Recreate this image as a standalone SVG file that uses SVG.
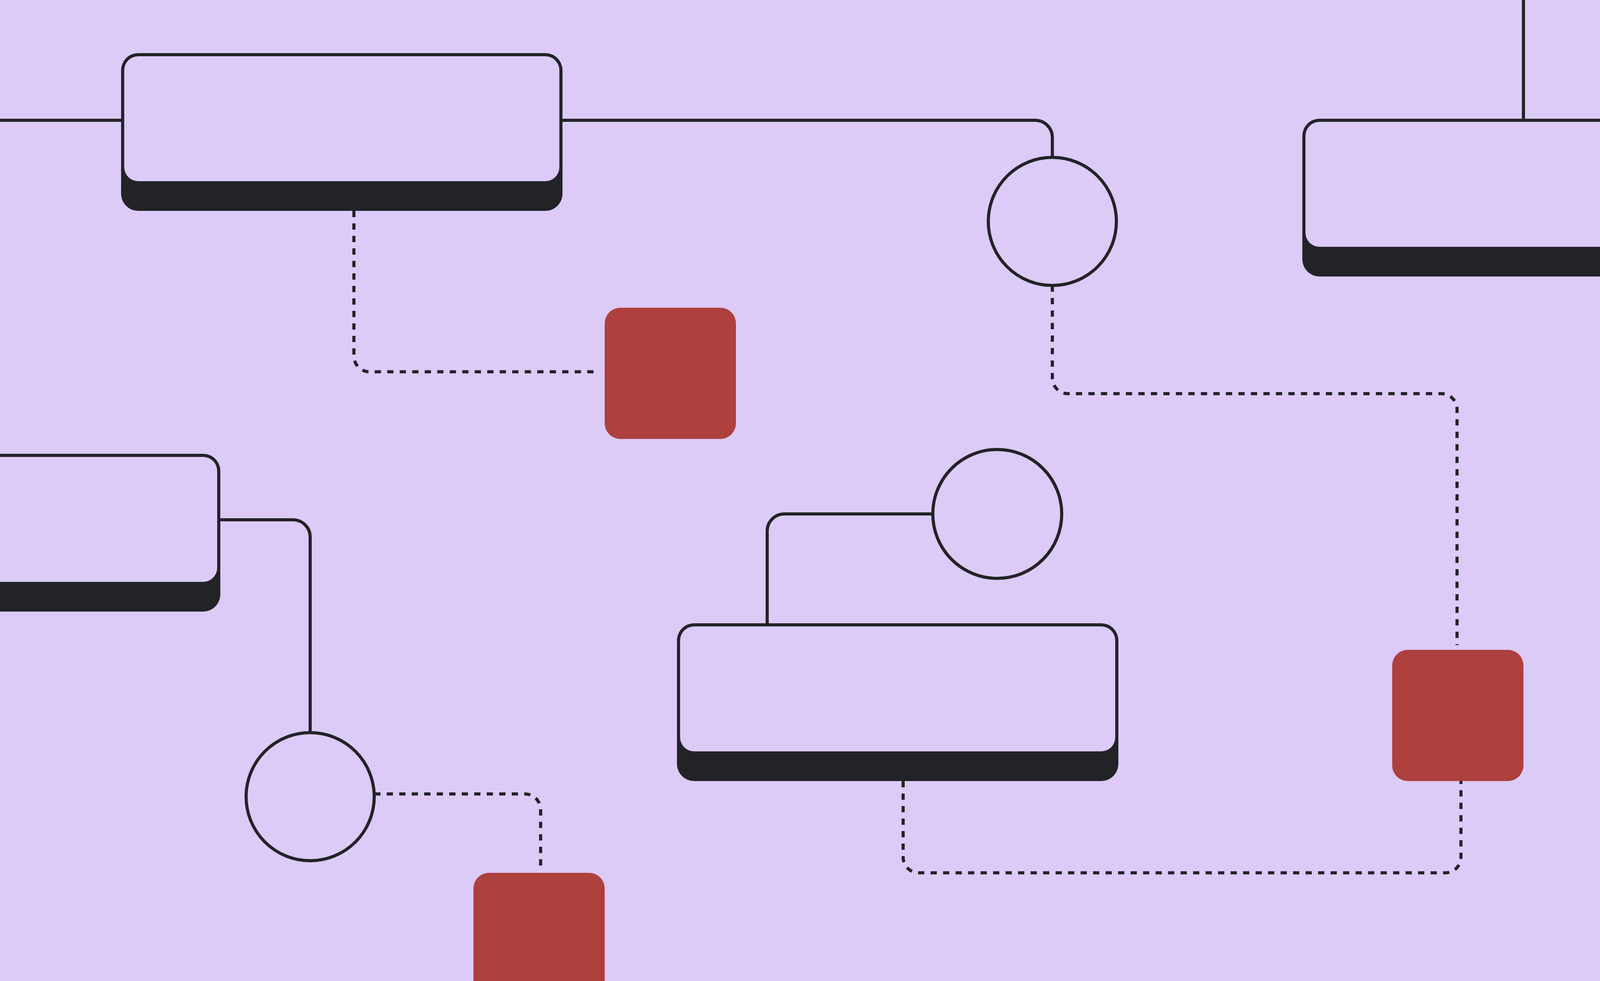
<svg xmlns="http://www.w3.org/2000/svg" width="4800" height="2512" viewBox="0 0 4800 2512">
<style>
.bg{fill:#DCCAF7}
.base{fill:#222327}
.face{fill:#DCCAF7}
.ring{fill:#DCCAF7;stroke:#222327;stroke-width:8}
.red{fill:#AE403E}
.solid{fill:none;stroke:#222327;stroke-width:8}
.dash{fill:none;stroke:#222327;stroke-width:8;stroke-dasharray:16 16}
</style>
<rect class="bg" x="0" y="0" width="4800" height="2512"/>
<g id="connectors">
<path class="solid" d="M0,308 H310"/>
<path class="solid" d="M1440,308 H2650 A44,44 0 0 1 2694,352 V403"/>
<path class="solid" d="M3900,0 V304"/>
<path class="solid" d="M564,1331 H750 A44,44 0 0 1 794,1375 V1876"/>
<path class="solid" d="M2388,1316 H2008 A44,44 0 0 0 1964,1360 V1596"/>
<path class="dash" d="M906,540 V912 A40,40 0 0 0 946,952 H1530"/>
<path class="dash" d="M2694,731 V968 A40,40 0 0 0 2734,1008 H3690 A40,40 0 0 1 3730,1048 V1652"/>
<path class="dash" d="M4160,708 V1211 A40,40 0 0 0 4200,1251 H4561"/>
<path class="dash" d="M958,2033 H1344 A40,40 0 0 1 1384,2073 V2226"/>
<path class="dash" d="M2312,2000 V2195 A40,40 0 0 0 2352,2235 H3700 A40,40 0 0 0 3740,2195 V2000"/>
</g>
<g id="node-a">
<rect class="base" x="310" y="136" width="1130" height="404" rx="44"/>
<rect class="face" x="318" y="144" width="1114" height="320" rx="36"/>
</g>
<g id="node-b">
<rect class="base" x="3334" y="304" width="1130" height="404" rx="44"/>
<rect class="face" x="3342" y="312" width="1114" height="320" rx="36"/>
</g>
<g id="node-c">
<rect class="base" x="-566" y="1162" width="1130" height="404" rx="44"/>
<rect class="face" x="-558" y="1170" width="1114" height="320" rx="36"/>
</g>
<g id="node-d">
<rect class="base" x="1733" y="1596" width="1130" height="404" rx="44"/>
<rect class="face" x="1741" y="1604" width="1114" height="320" rx="36"/>
</g>
<g id="circle-1"><circle class="ring" cx="2694" cy="567" r="164"/></g>
<g id="circle-2"><circle class="ring" cx="794" cy="2040" r="164"/></g>
<g id="circle-3"><circle class="ring" cx="2553" cy="1316" r="165"/></g>
<g id="square-1"><rect class="red" x="1548" y="788" width="336" height="336" rx="40"/></g>
<g id="square-2"><rect class="red" x="4561" y="1084" width="336" height="336" rx="40"/></g>
<g id="square-3"><rect class="red" x="1212" y="2235" width="336" height="336" rx="40"/></g>
<g id="square-4"><rect class="red" x="3564" y="1664" width="336" height="336" rx="40"/></g>
</svg>
